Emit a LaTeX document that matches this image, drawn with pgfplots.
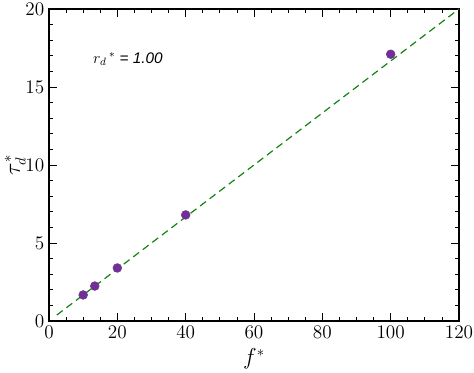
\documentclass[border=0pt]{standalone}
\usepackage{pgfplots}
\pgfplotsset{compat=1.18}
\usepackage{fontspec}
\newfontfamily\annfont{Liberation Sans}
\definecolor{ptpurple}{RGB}{112,48,150}
\definecolor{lngreen}{RGB}{20,130,20}
\begin{document}
\begin{tikzpicture}
\begin{axis}[
  name=ax,
  scale only axis,
  width=307.5pt, height=234pt,
  xmin=0, xmax=120, ymin=0, ymax=20,
  xtick={0,20,...,120}, ytick={0,5,...,20},
  minor x tick num=3, minor y tick num=4,
  tick align=inside,
  major tick length=6pt, minor tick length=3pt,
  every tick/.style={black, line width=0.6pt},
  axis line style={line width=0.8pt},
  tick label style={font=\fontsize{14.5}{16}\selectfont},
  label style={font=\fontsize{16}{18}\selectfont},
  xlabel={$f^{*}$}, ylabel={$\tau_d^{*}$},
  xlabel style={yshift=-1pt},
  ylabel style={yshift=-7pt},
  clip=false,
]
\addplot[lngreen, line width=0.9pt, dash pattern=on 5.5pt off 3.5pt] coordinates {(2.3,0.383) (120,20)};
\addplot[only marks, mark=*, mark size=3.3pt, ptpurple, mark options={draw=ptpurple, fill=ptpurple}] coordinates {
(10,1.67) (13.4,2.24) (20,3.4) (40,6.8) (100,17.1)};
\node[anchor=west, font=\annfont\itshape\fontsize{11.5}{13}\selectfont] at (axis cs:11.5,16.8) {$r_d$\,$^{*}$ = 1.00};
\end{axis}
\pgfresetboundingbox
\path ([xshift=-36.75pt,yshift=-39pt]ax.south west) rectangle ([xshift=11.25pt,yshift=6.75pt]ax.north east);
\end{tikzpicture}
\end{document}
